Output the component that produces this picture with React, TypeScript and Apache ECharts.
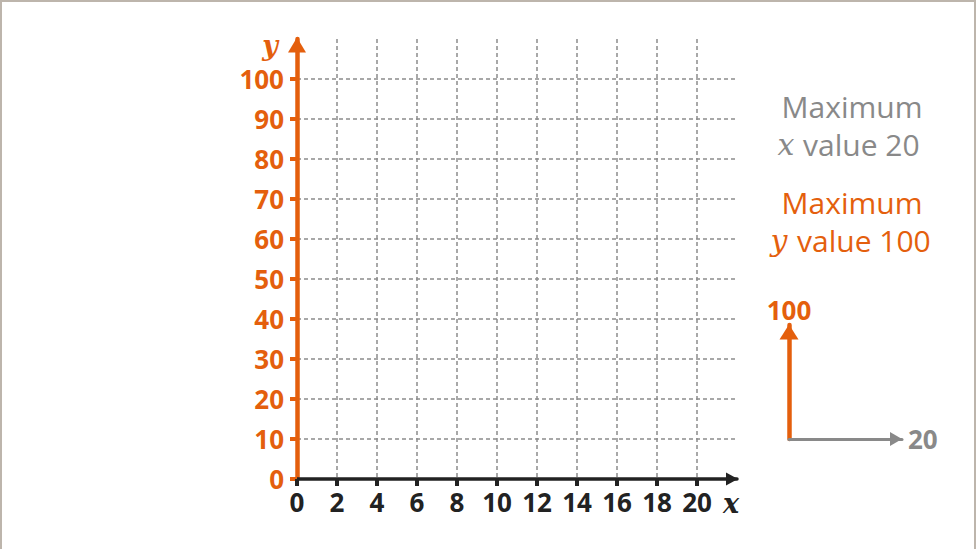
import React, { useEffect, useRef } from 'react';
import * as echarts from 'echarts';

// axis ticks and limits of the empty grid
const xTicks = [0, 2, 4, 6, 8, 10, 12, 14, 16, 18, 20];
const yTicks = [0, 10, 20, 30, 40, 50, 60, 70, 80, 90, 100];
const xStep = 2;
const yStep = 10;
const xAxisEnd = 22; // axis runs a bit past the last labelled tick
const yAxisEnd = 110;

// the small "maximum values" diagram
const maxX = 20;
const maxY = 100;
const noteTitle = 'Maximum';
const noteX = 'value 20';
const noteY = 'value 100';

const ORANGE = '#e45f0d';
const GREY = '#898989';
const DARK = '#222222';
const SANS = '"Open Sans", "Noto Sans", sans-serif';
const SERIF = '"DejaVu Serif", "Liberation Serif", serif';

const gridDash = { color: '#8c8c8c', width: 1.5, type: [4, 3] };

const txt = (x: number, y: number, text: string, fill: string, font: string, align = 'center') => ({
  type: 'text',
  x,
  y,
  style: { text, fill, font, align, verticalAlign: 'middle' },
});

const App: React.FC = () => {
  const chartRef = useRef<HTMLDivElement | null>(null);

  useEffect(() => {
    if (!chartRef.current) return;
    const chart = echarts.init(chartRef.current, undefined, { renderer: 'svg' });

    const option = {
      animation: false,
      grid: [
        { left: 297, top: 39, width: 440, height: 440 },
        { left: 789, top: 325, width: 113, height: 114 },
      ],
      xAxis: [
        {
          type: 'value',
          gridIndex: 0,
          min: 0,
          max: xAxisEnd,
          interval: xStep,
          axisLine: {
            show: true,
            onZero: false,
            symbol: ['none', 'triangle'],
            symbolSize: [13, 12],
            symbolOffset: [0, -5],
            lineStyle: { color: DARK, width: 3.5 },
          },
          axisTick: {
            show: true,
            customValues: xTicks,
            length: 7,
            lineStyle: { color: DARK, width: 4 },
          },
          axisLabel: {
            customValues: xTicks,
            formatter: (v: number) => (xTicks.includes(v) ? String(v) : ''),
            color: DARK,
            fontFamily: SANS,
            fontWeight: 'bold',
            fontSize: 26,
            margin: 10,
          },
          splitLine: { show: true, lineStyle: gridDash },
        },
        {
          type: 'value',
          gridIndex: 1,
          min: 0,
          max: maxX,
          name: String(maxX),
          nameLocation: 'end',
          nameGap: 6,
          nameTextStyle: { color: GREY, fontFamily: SANS, fontWeight: 'bold', fontSize: 26 },
          axisLine: {
            show: true,
            onZero: false,
            symbol: ['none', 'triangle'],
            symbolSize: [14, 12],
            symbolOffset: [0, -6],
            lineStyle: { color: GREY, width: 3 },
          },
          axisTick: { show: false },
          axisLabel: { show: false },
          splitLine: { show: false },
        },
      ],
      yAxis: [
        {
          type: 'value',
          gridIndex: 0,
          min: 0,
          max: yAxisEnd,
          interval: yStep,
          axisLine: {
            show: true,
            onZero: false,
            symbol: ['none', 'triangle'],
            symbolSize: [18, 15],
            symbolOffset: [0, -6],
            lineStyle: { color: ORANGE, width: 4.5 },
          },
          axisTick: {
            show: true,
            customValues: yTicks,
            length: 7,
            lineStyle: { color: ORANGE, width: 4 },
          },
          axisLabel: {
            customValues: yTicks,
            formatter: (v: number) => (yTicks.includes(v) ? String(v) : ''),
            color: ORANGE,
            fontFamily: SANS,
            fontWeight: 'bold',
            fontSize: 26,
            margin: 13,
          },
          splitLine: { show: true, lineStyle: gridDash },
        },
        {
          type: 'value',
          gridIndex: 1,
          min: 0,
          max: maxY,
          name: String(maxY),
          nameLocation: 'end',
          nameGap: 2,
          nameTextStyle: { color: ORANGE, fontFamily: SANS, fontWeight: 'bold', fontSize: 26 },
          axisLine: {
            show: true,
            onZero: false,
            symbol: ['none', 'triangle'],
            symbolSize: [19, 15],
            symbolOffset: [0, -7],
            lineStyle: { color: ORANGE, width: 4.5 },
          },
          axisTick: { show: false },
          axisLabel: { show: false },
          splitLine: { show: false },
        },
      ],
      series: [
        { type: 'line', xAxisIndex: 0, yAxisIndex: 0, data: [], silent: true },
        { type: 'line', xAxisIndex: 1, yAxisIndex: 1, data: [], silent: true },
      ],
      graphic: [
        // axis letters
        txt(270, 45, 'y', ORANGE, `italic bold 27px ${SERIF}`),
        txt(731, 503, 'x', DARK, `italic bold 27px ${SERIF}`),
        // side notes
        txt(852, 106, noteTitle, GREY, `30px ${SANS}`),
        txt(786, 144, 'x', GREY, `italic 30px ${SERIF}`),
        txt(803, 144, noteX, GREY, `30px ${SANS}`, 'left'),
        txt(852, 202, noteTitle, ORANGE, `30px ${SANS}`),
        txt(779, 240, 'y', ORANGE, `italic 30px ${SERIF}`),
        txt(797, 240, noteY, ORANGE, `30px ${SANS}`, 'left'),
      ],
    };

    chart.setOption(option);

    return () => {
      chart.dispose();
    };
  }, []);

  return (
    <>
      <div
        style={{
          position: 'fixed',
          left: 0,
          top: 0,
          width: 976,
          height: 549,
          boxSizing: 'border-box',
          borderTop: '2px solid #bdb5ac',
          borderLeft: '2px solid #bdb5ac',
          borderRight: '2px solid #bdb5ac',
          background: '#ffffff',
        }}
      />
      <div
        ref={chartRef}
        style={{ position: 'fixed', left: 0, top: 0, width: 976, height: 549 }}
      />
    </>
  );
};

export default App;
